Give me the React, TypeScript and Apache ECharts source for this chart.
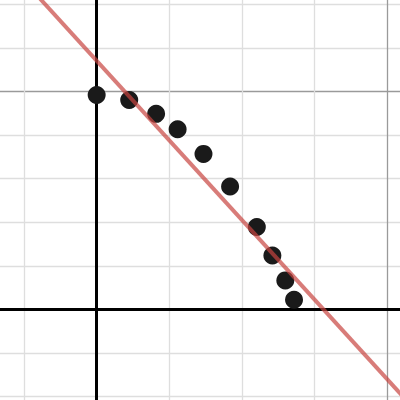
import React, { useEffect, useRef } from "react";
import * as echarts from "echarts";

// Scatter data (x, y)
const pointX = [0, 0.224, 0.409, 0.557, 0.735, 0.918, 1.102, 1.209, 1.298, 1.358];
const pointY = [0.985, 0.962, 0.898, 0.827, 0.714, 0.564, 0.378, 0.247, 0.133, 0.044];

// Fitted line y = slope * x + intercept
const lineSlope = -0.732;
const lineIntercept = 1.142;
const lineXs = [-1, 2.5];

// Axis ranges (larger than visible window, which crops it)
const xRange = [-2, 4];
const yRange = [-1, 2];
const xMajor = 2;
const yMajor = 1;
const xMinorSplits = 4;
const yMinorSplits = 5;

export default function App() {
  const ref = useRef<HTMLDivElement>(null);

  useEffect(() => {
    if (!ref.current) return;
    const chart = echarts.init(ref.current, undefined, { renderer: "svg" });
    const points = pointX.map((x, i) => [x, pointY[i]]);
    const linePts = lineXs.map((x) => [x, lineSlope * x + lineIntercept]);
    const axisCommon = {
      type: "value" as const,
      axisLine: { show: true, onZero: true, lineStyle: { color: "#000", width: 3 } },
      axisTick: { show: false },
      axisLabel: { show: false },
      splitLine: { show: true, lineStyle: { color: "#9a9a9a", width: 1.3 } },
      minorTick: { show: false },
      minorSplitLine: { show: true, lineStyle: { color: "#dedede", width: 1.3 } },
    };
    chart.setOption({
      animation: false,
      grid: { left: 0, right: 0, top: 0, bottom: 0, containLabel: false, outerBoundsMode: "none" },
      xAxis: {
        ...axisCommon,
        min: xRange[0],
        max: xRange[1],
        interval: xMajor,
        minorTick: { show: false, splitNumber: xMinorSplits },
      },
      yAxis: {
        ...axisCommon,
        min: yRange[0],
        max: yRange[1],
        interval: yMajor,
        minorTick: { show: false, splitNumber: yMinorSplits },
      },
      series: [
        {
          type: "scatter",
          data: points,
          symbolSize: 18,
          itemStyle: { color: "#1a1a1a", opacity: 1 },
          z: 3,
        },
        {
          type: "line",
          data: linePts,
          showSymbol: false,
          symbol: "none",
          lineStyle: { color: "#c74440", opacity: 0.7, width: 4 },
          z: 4,
        },
      ],
    });
    return () => chart.dispose();
  }, []);

  // Pixel scale: 145.4 px per x unit, 217.8 px per y unit; origin at (96.5, 309.6)
  const pxX = 145.4;
  const pxY = 217.8;
  const width = (xRange[1] - xRange[0]) * pxX;
  const height = (yRange[1] - yRange[0]) * pxY;
  const left = 96.5 + xRange[0] * pxX;
  const top = 309.6 - yRange[1] * pxY;

  return (
    <div
      style={{
        position: "fixed",
        left: 0,
        top: 0,
        width: 400,
        height: 400,
        overflow: "hidden",
        background: "#fff",
      }}
    >
      <div
        ref={ref}
        style={{ position: "absolute", left, top, width, height }}
      />
    </div>
  );
}
